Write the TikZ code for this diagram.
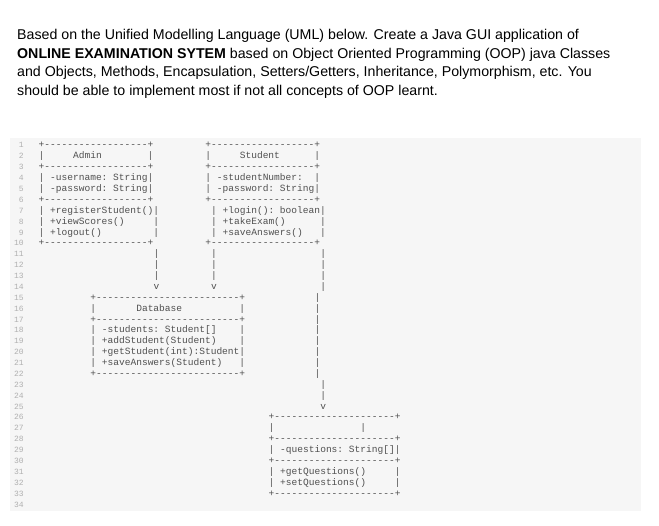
\documentclass[tikz,border=0pt]{standalone}
\usepackage{fontspec}
\setmainfont{Liberation Sans}
\setmonofont{Liberation Mono}
\definecolor{codebg}{HTML}{F6F6F6}
\definecolor{codefg}{HTML}{505050}
\definecolor{numfg}{HTML}{B0B0B0}
\begin{document}
\begin{tikzpicture}[x=1pt,y=-1pt,
  intro/.style={anchor=base west,inner sep=0pt,font=\fontsize{14.2}{17}\selectfont},
  code/.style={anchor=base west,inner sep=0pt,text=codefg,font=\fontsize{9.55}{10}\ttfamily},
  num/.style={anchor=base east,inner sep=0pt,text=numfg,font=\fontsize{8}{9}\ttfamily}]
\useasboundingbox (0,0) rectangle (659,526);
\fill[codebg] (10,138) rectangle (641,511);
\node[intro] (t1) at (17,40) {Based on the Unified Modelling Language (UML) below. Create a Java GUI application of};
\node[intro] (t2) at (17,58.5) {\textbf{ONLINE EXAMINATION SYTEM} based on Object Oriented Programming (OOP) java Classes};
\node[intro] (t3) at (17,77) {and Objects, Methods, Encapsulation, Setters/Getters, Inheritance, Polymorphism, etc. You};
\node[intro] (t4) at (17,95.5) {should be able to implement most if not all concepts of OOP learnt.};
\def\cw{5.75}
\def\xo{38.5}
\foreach \k in {1,...,34}{\node[num] (n\k) at (24,{145+(\k-1)*10.88+3}) {\k};}
\newcommand\cl[3]{\node[code] (c#1-#2) at ({\xo+#2*\cw},{145+(#1-1)*10.88+3}) {#3};}
\def\sep{+------------------+}
\cl{1}{0}{\sep}\cl{1}{29}{\sep}
\cl{2}{0}{|~~~~~Admin~~~~~~~~|}\cl{2}{29}{|~~~~~Student~~~~~~|}
\cl{3}{0}{\sep}\cl{3}{29}{\sep}
\cl{4}{0}{|~-username:~String|}\cl{4}{29}{|~-studentNumber:~~|}
\cl{5}{0}{|~-password:~String|}\cl{5}{29}{|~-password:~String|}
\cl{6}{0}{\sep}\cl{6}{29}{\sep}
\cl{7}{0}{|~+registerStudent()|}\cl{7}{30}{|~+login():~boolean|}
\cl{8}{0}{|~+viewScores()~~~~~|}\cl{8}{30}{|~+takeExam()~~~~~~|}
\cl{9}{0}{|~+logout()~~~~~~~~~|}\cl{9}{30}{|~+saveAnswers()~~~|}
\cl{10}{0}{\sep}\cl{10}{29}{\sep}
\foreach \k in {11,12,13}{\cl{\k}{20}{|}\cl{\k}{30}{|}\cl{\k}{49}{|}}
\cl{14}{20}{v}\cl{14}{30}{v}\cl{14}{49}{|}
\def\dsep{+-------------------------+}
\cl{15}{9}{\dsep}
\cl{16}{9}{|~~~~~~~Database~~~~~~~~~~|}
\cl{17}{9}{\dsep}
\cl{18}{9}{|~-students:~Student[]~~~~|}
\cl{19}{9}{|~+addStudent(Student)~~~~|}
\cl{20}{9}{|~+getStudent(int):Student|}
\cl{21}{9}{|~+saveAnswers(Student)~~~|}
\cl{22}{9}{\dsep}
\foreach \k in {15,...,22}{\cl{\k}{48}{|}}
\cl{23}{49}{|}\cl{24}{49}{|}\cl{25}{49}{v}
\def\qsep{+---------------------+}
\cl{26}{40}{\qsep}
\cl{27}{40}{|~~~~~~~~~~~~~~~|}
\cl{28}{40}{\qsep}
\cl{29}{40}{|~-questions:~String[]|}
\cl{30}{40}{\qsep}
\cl{31}{40}{|~+getQuestions()~~~~~|}
\cl{32}{40}{|~+setQuestions()~~~~~|}
\cl{33}{40}{\qsep}
\end{tikzpicture}
\end{document}
